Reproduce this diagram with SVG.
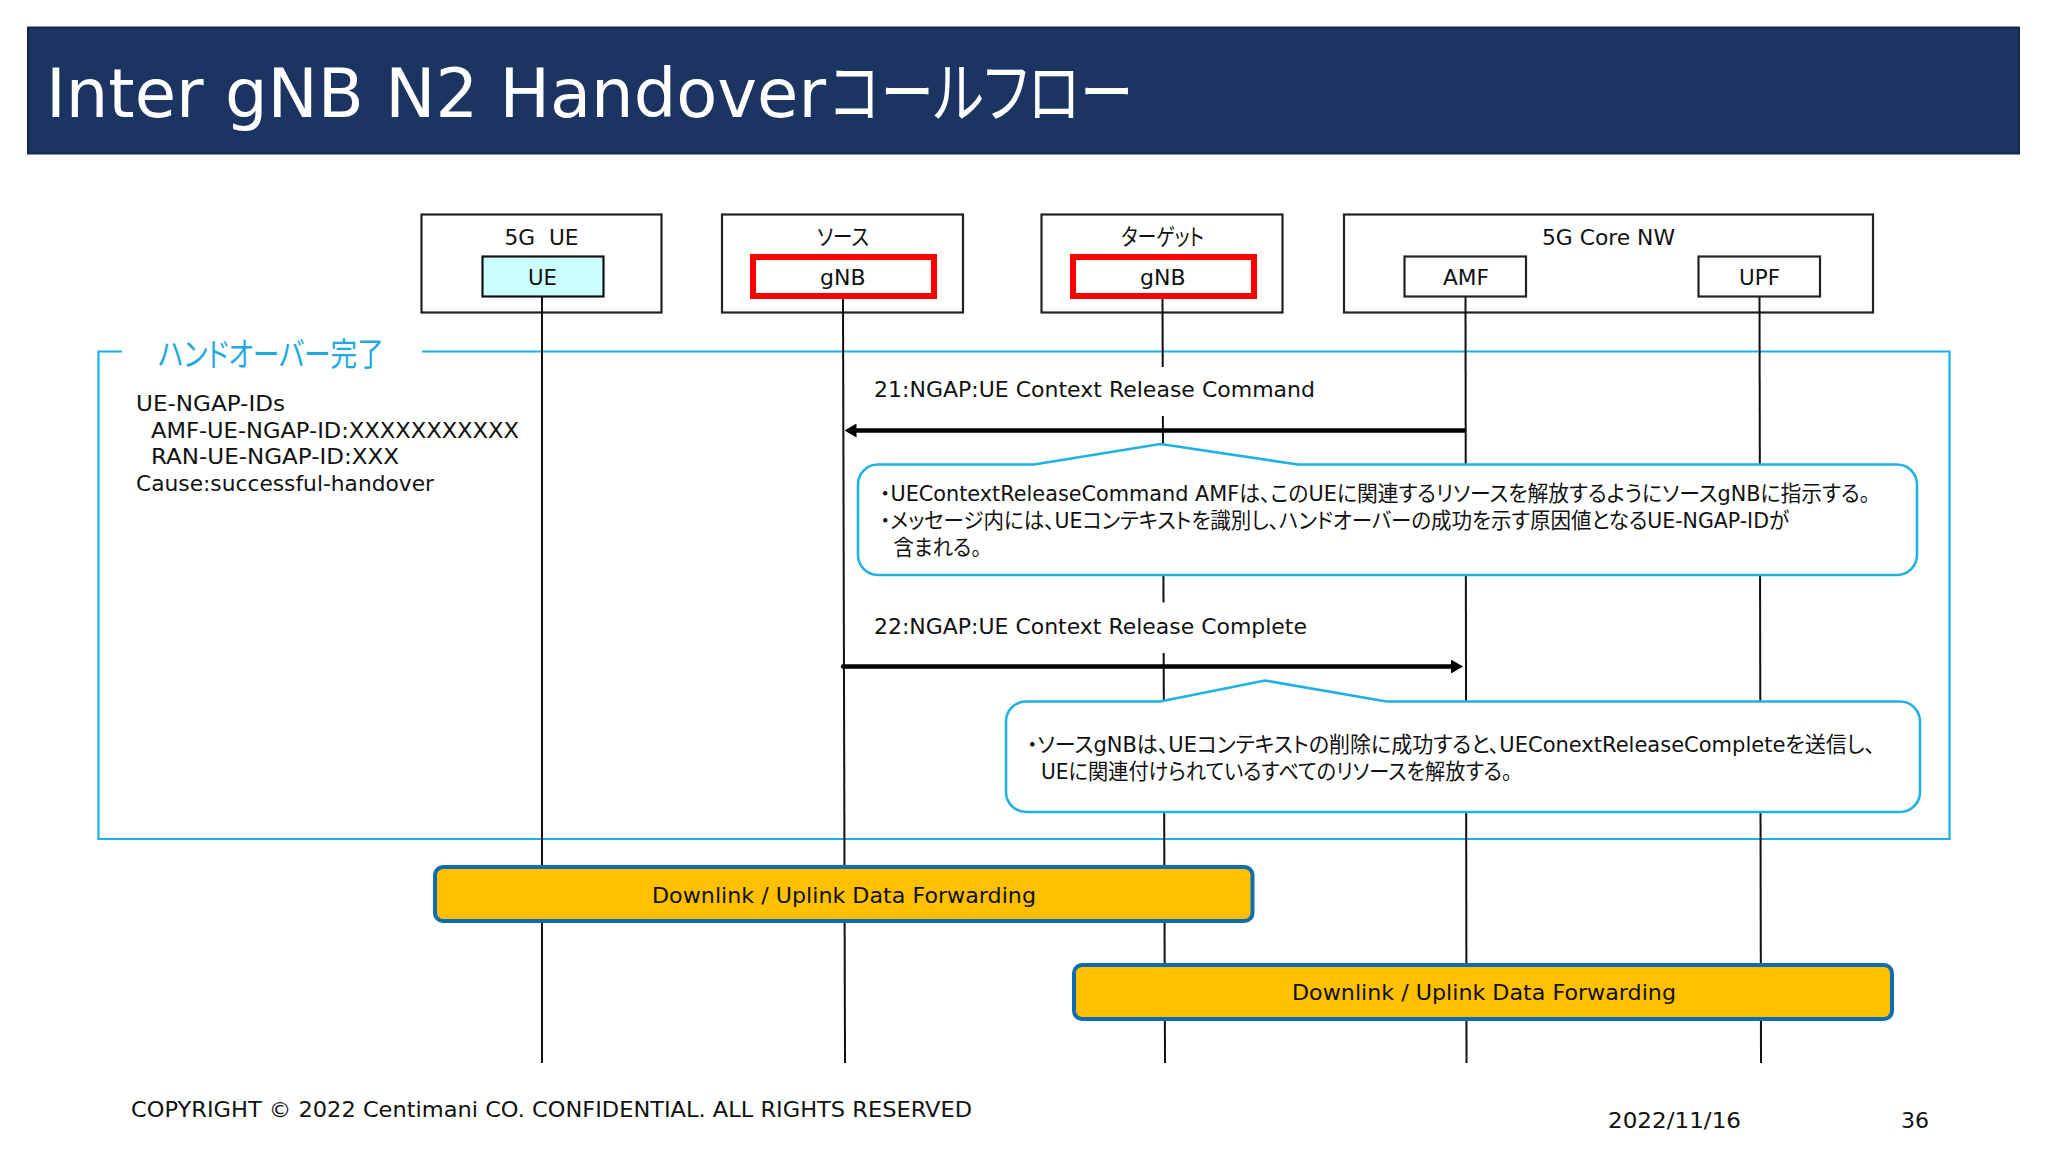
<svg xmlns="http://www.w3.org/2000/svg" width="2048" height="1152" viewBox="0 0 2048 1152">
<style>
text{font-family:"DejaVu Sans","Noto Sans CJK JP",sans-serif;font-feature-settings:"palt";fill:#111;font-size:21.5px}
.box{fill:#fff;stroke:#222;stroke-width:2.2}
.red{fill:#fff;stroke:#f00;stroke-width:6}
.life{stroke:#111;stroke-width:2;fill:none}
.msg{stroke:#000;stroke-width:4.5;fill:none}
.call{fill:#fff;stroke:#1fb1e2;stroke-width:2.6;stroke-linejoin:round}
.bar{fill:#ffc000;stroke:#0f6cb0;stroke-width:4}
.frame{fill:none;stroke:#1db2de;stroke-width:2.2}
</style>
<defs>
<marker id="ah" viewBox="0 0 12 14" refX="4" refY="7" markerUnits="userSpaceOnUse" markerWidth="12" markerHeight="14" orient="auto"><path d="M0 0L12 7L0 14Z" fill="#000"/></marker>
</defs>
<rect width="2048" height="1152" fill="#fff"/>
<g id="title">
<rect x="28" y="27.5" width="1991" height="126" fill="#1c3461" stroke="#14284f" stroke-width="2"/>
<text x="46" y="117" style="font-size:67px;fill:#fff" textLength="780" lengthAdjust="spacingAndGlyphs">Inter gNB N2 Handover</text>
<text x="830" y="117" style="font-size:67px;fill:#fff" textLength="303" lengthAdjust="spacingAndGlyphs">コールフロー</text>
</g>
<g id="frame">
<path class="frame" d="M122 351.5H98.5V839H1949.5V351.5H422"/>
<text x="158" y="366" style="font-size:33px;fill:#1fa9e0" textLength="226" lengthAdjust="spacingAndGlyphs">ハンドオーバー完了</text>
<text x="136" y="410.5" textLength="149" lengthAdjust="spacingAndGlyphs">UE-NGAP-IDs</text>
<text x="151" y="437.5" textLength="368" lengthAdjust="spacingAndGlyphs">AMF-UE-NGAP-ID:XXXXXXXXXXX</text>
<text x="151" y="463.5" textLength="248" lengthAdjust="spacingAndGlyphs">RAN-UE-NGAP-ID:XXX</text>
<text x="136" y="490.5" textLength="298" lengthAdjust="spacingAndGlyphs">Cause:successful-handover</text>
</g>
<g id="node-ue">
<rect class="box" x="421.5" y="214.5" width="240" height="98"/>
<text x="504.5" y="244.5" xml:space="preserve" textLength="74" lengthAdjust="spacingAndGlyphs">5G  UE</text>
<rect x="482.5" y="256.5" width="121" height="40" style="fill:#ccffff;stroke:#111;stroke-width:2.2"/>
<text x="528" y="285" textLength="29" lengthAdjust="spacingAndGlyphs">UE</text>
</g>
<g id="node-source">
<rect class="box" x="722" y="214.5" width="241" height="98"/>
<text x="817" y="244.5" style="font-size:23px" textLength="52" lengthAdjust="spacingAndGlyphs">ソース</text>
<rect class="red" x="753" y="257" width="181" height="39"/>
<text x="820" y="285" textLength="45.5" lengthAdjust="spacingAndGlyphs">gNB</text>
</g>
<g id="node-target">
<rect class="box" x="1041.5" y="214.5" width="241" height="98"/>
<text x="1121" y="244.5" style="font-size:23px" textLength="83" lengthAdjust="spacingAndGlyphs">ターゲット</text>
<rect class="red" x="1073" y="257" width="181" height="39"/>
<text x="1140" y="285" textLength="45.5" lengthAdjust="spacingAndGlyphs">gNB</text>
</g>
<g id="node-core">
<rect class="box" x="1344" y="214.5" width="529" height="98"/>
<text x="1542" y="244.5" textLength="133" lengthAdjust="spacingAndGlyphs">5G Core NW</text>
</g>
<g id="node-amf">
<rect class="box" x="1404.5" y="256.5" width="121.5" height="40"/>
<text x="1443" y="285" textLength="46" lengthAdjust="spacingAndGlyphs">AMF</text>
</g>
<g id="node-upf">
<rect class="box" x="1698.5" y="256.5" width="121.5" height="40"/>
<text x="1739" y="285" textLength="41" lengthAdjust="spacingAndGlyphs">UPF</text>
</g>
<g id="connectors">
<path class="life" d="M542 297V1063"/>
<path class="life" d="M843 299L845 1063"/>
<path class="life" d="M1162.5 299L1165 1063"/>
<path class="life" d="M1465.5 297L1466.5 1063"/>
<path class="life" d="M1759.5 297L1761 1063"/>
<rect x="860" y="367" width="470" height="49" fill="#fff"/>
<rect x="860" y="602.5" width="460" height="50.5" fill="#fff"/>
<path class="msg" d="M1465.5 430.5H852.5" marker-end="url(#ah)"/>
<path class="msg" stroke-linecap="round" d="M843 666.5H1455" marker-end="url(#ah)"/>
<text x="874" y="397" textLength="441" lengthAdjust="spacingAndGlyphs">21:NGAP:UE Context Release Command</text>
<text x="874" y="633.5" textLength="433" lengthAdjust="spacingAndGlyphs">22:NGAP:UE Context Release Complete</text>
</g>
<g id="note-21">
<path class="call" d="M878 464.5H1034L1160.5 444L1298 464.5H1897a20 20 0 0 1 20 20V555a20 20 0 0 1-20 20H878a20 20 0 0 1-20-20V484.5a20 20 0 0 1 20-20Z"/>
<text x="880" y="501" textLength="990" lengthAdjust="spacingAndGlyphs">・UEContextReleaseCommand AMFは、このUEに関連するリソースを解放するようにソースgNBに指示する。</text>
<text x="880" y="527.5" textLength="909" lengthAdjust="spacingAndGlyphs">・メッセージ内には、UEコンテキストを識別し、ハンドオーバーの成功を示す原因値となるUE-NGAP-IDが</text>
<text x="893.5" y="554.5" textLength="88" lengthAdjust="spacingAndGlyphs">含まれる。</text>
</g>
<g id="note-22">
<path class="call" d="M1026 701.5H1160L1265 680.5L1386.5 701.5H1900a20 20 0 0 1 20 20V792a20 20 0 0 1-20 20H1026a20 20 0 0 1-20-20V721.5a20 20 0 0 1 20-20Z"/>
<text x="1027" y="752" textLength="848" lengthAdjust="spacingAndGlyphs">・ソースgNBは、UEコンテキストの削除に成功すると、UEConextReleaseCompleteを送信し、</text>
<text x="1041" y="779" textLength="471" lengthAdjust="spacingAndGlyphs">UEに関連付けられているすべてのリソースを解放する。</text>
</g>
<g id="bar-1">
<rect class="bar" x="435" y="867" width="824" height="54" rx="8" style="width:817.5px"/>
<text x="652" y="903" textLength="384" lengthAdjust="spacingAndGlyphs">Downlink / Uplink Data Forwarding</text>
</g>
<g id="bar-2">
<rect class="bar" x="1074" y="965" width="818" height="54" rx="8"/>
<text x="1292" y="1000" textLength="384" lengthAdjust="spacingAndGlyphs">Downlink / Uplink Data Forwarding</text>
</g>
<g id="footer">
<text x="131" y="1117" textLength="841" lengthAdjust="spacingAndGlyphs">COPYRIGHT © 2022 Centimani CO. CONFIDENTIAL. ALL RIGHTS RESERVED</text>
<text x="1608" y="1128" textLength="133" lengthAdjust="spacingAndGlyphs">2022/11/16</text>
<text x="1901" y="1128" textLength="28" lengthAdjust="spacingAndGlyphs">36</text>
</g>
</svg>
